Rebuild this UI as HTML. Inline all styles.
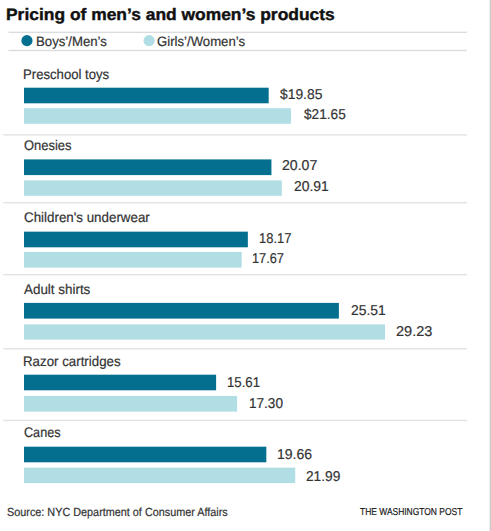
<!DOCTYPE html>
<html><head><meta charset="utf-8"><style>
html,body{margin:0;padding:0;background:#fff;}
body{width:491px;height:531px;position:relative;overflow:hidden;font-family:"Liberation Sans",sans-serif;}
.t{position:absolute;white-space:nowrap;line-height:1;transform-origin:0 0;text-rendering:geometricPrecision;}
.b{font-weight:bold;color:#111;-webkit-text-stroke:0.4px #111;}
.g{color:#333;-webkit-text-stroke:0.2px #333;}
.k{color:#222;-webkit-text-stroke:0.2px #222;}
</style></head><body>
<svg width="491" height="531" style="position:absolute;left:0;top:0" shape-rendering="geometricPrecision"><rect x="24.0" y="87.70" width="244.69" height="15.60" fill="rgb(5,111,144)"/><rect x="24.0" y="108.20" width="267.01" height="15.60" fill="rgb(176,222,228)"/><rect x="24.0" y="159.40" width="247.42" height="15.70" fill="rgb(5,111,144)"/><rect x="24.0" y="180.40" width="257.84" height="15.40" fill="rgb(176,222,228)"/><rect x="24.0" y="231.65" width="223.85" height="15.65" fill="rgb(5,111,144)"/><rect x="24.0" y="251.90" width="217.65" height="15.70" fill="rgb(176,222,228)"/><rect x="24.0" y="302.90" width="314.89" height="15.70" fill="rgb(5,111,144)"/><rect x="24.0" y="324.40" width="361.03" height="15.20" fill="rgb(176,222,228)"/><rect x="24.0" y="374.70" width="192.10" height="15.60" fill="rgb(5,111,144)"/><rect x="24.0" y="395.90" width="213.06" height="15.70" fill="rgb(176,222,228)"/><rect x="24.0" y="446.70" width="242.33" height="15.60" fill="rgb(5,111,144)"/><rect x="24.0" y="467.65" width="271.23" height="15.45" fill="rgb(176,222,228)"/><rect x="8.5" y="31.65" width="458.5" height="1.4" fill="#dcdcdc"/><rect x="8.5" y="49.8" width="458.5" height="1.4" fill="#dcdcdc"/><circle cx="26.95" cy="40.65" r="5.6" fill="rgb(5,111,144)"/><circle cx="149.1" cy="40.65" r="5.6" fill="rgb(176,222,228)"/><rect x="3.3" y="134.16" width="463.8" height="1.4" fill="#e3e3e3"/><rect x="3.3" y="202.00" width="463.8" height="1.4" fill="#e3e3e3"/><rect x="3.3" y="273.95" width="463.8" height="1.4" fill="#e3e3e3"/><rect x="3.3" y="348.10" width="463.8" height="1.4" fill="#e3e3e3"/><rect x="3.3" y="419.70" width="463.8" height="1.4" fill="#e3e3e3"/><rect x="489.7" y="0" width="1.3" height="531" fill="#cccccc"/></svg>
<div class="t b" style="left:5.54px;top:7.00px;font-size:16.60px;transform:scaleX(1.0497)">Pricing of men’s and women’s products</div>
<div class="t g" style="left:36.21px;top:35.00px;font-size:13.59px;transform:scaleX(0.9714)">Boys’/Men’s</div>
<div class="t g" style="left:156.93px;top:35.00px;font-size:13.59px;transform:scaleX(0.9697)">Girls’/Women’s</div>
<div class="t g" style="left:23.32px;top:68.00px;font-size:13.95px;transform:scaleX(0.9425)">Preschool toys</div>
<div class="t g" style="left:280.15px;top:88.00px;font-size:14.24px;transform:scaleX(0.9722)">$19.85</div>
<div class="t g" style="left:303.55px;top:108.00px;font-size:14.24px;transform:scaleX(0.9582)">$21.65</div>
<div class="t g" style="left:23.78px;top:139.00px;font-size:13.95px;transform:scaleX(0.9287)">Onesies</div>
<div class="t g" style="left:282.49px;top:159.00px;font-size:14.24px;transform:scaleX(0.9915)">20.07</div>
<div class="t g" style="left:293.50px;top:180.00px;font-size:14.24px;transform:scaleX(0.9764)">20.91</div>
<div class="t g" style="left:23.72px;top:211.00px;font-size:13.95px;transform:scaleX(0.9584)">Children's underwear</div>
<div class="t g" style="left:258.61px;top:232.00px;font-size:14.24px;transform:scaleX(0.9082)">18.17</div>
<div class="t g" style="left:252.42px;top:252.00px;font-size:14.24px;transform:scaleX(0.8964)">17.67</div>
<div class="t g" style="left:24.37px;top:283.00px;font-size:13.95px;transform:scaleX(0.9618)">Adult shirts</div>
<div class="t g" style="left:350.50px;top:304.00px;font-size:14.24px;transform:scaleX(0.9764)">25.51</div>
<div class="t g" style="left:395.97px;top:325.00px;font-size:14.24px;transform:scaleX(1.0194)">29.23</div>
<div class="t g" style="left:23.30px;top:355.00px;font-size:13.95px;transform:scaleX(0.9544)">Razor cartridges</div>
<div class="t g" style="left:226.69px;top:376.00px;font-size:14.24px;transform:scaleX(0.9282)">15.61</div>
<div class="t g" style="left:248.66px;top:397.00px;font-size:14.24px;transform:scaleX(0.9537)">17.30</div>
<div class="t g" style="left:23.75px;top:426.00px;font-size:13.95px;transform:scaleX(0.9062)">Canes</div>
<div class="t g" style="left:276.63px;top:448.00px;font-size:14.24px;transform:scaleX(0.9849)">19.66</div>
<div class="t g" style="left:306.01px;top:470.00px;font-size:14.24px;transform:scaleX(0.9613)">21.99</div>
<div class="t g" style="left:6.50px;top:507.00px;font-size:11.77px;transform:scaleX(0.9208)">Source: NYC Department of Consumer Affairs</div>
<div class="t k" style="left:359.99px;top:508.00px;font-size:10.03px;transform:scaleX(0.8434)">THE WASHINGTON POST</div>
</body></html>
